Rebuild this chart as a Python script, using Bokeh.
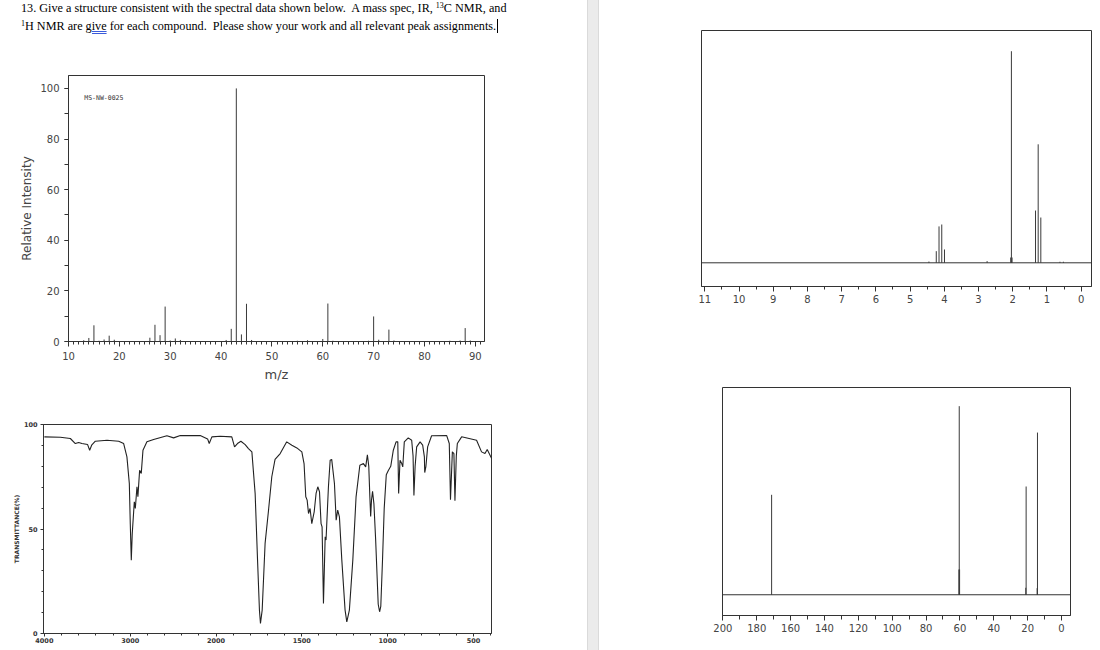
import numpy as np
from bokeh.plotting import figure
from bokeh.layouts import row, column
from bokeh.models import Div, Range1d, FixedTicker, Label, Span
from bokeh.embed import file_html
from bokeh.resources import INLINE

# ---------------- data ----------------
ms_mz = [13, 14, 15, 16, 17, 18, 19, 26, 27, 28, 29, 30, 31, 32, 41, 42, 43, 44, 45, 46,
         55, 57, 60, 61, 62, 69, 70, 71, 73, 74, 85, 87, 88, 89]
ms_int = [0.5, 1.4, 6.4, 0.3, 0.8, 2.3, 0.7, 1.5, 6.6, 2.5, 13.8, 0.4, 1.2, 0.6, 0.6, 5.0, 100.0, 2.8, 14.9, 0.6,
          0.3, 0.5, 1.0, 15.0, 0.3, 0.3, 9.9, 0.7, 4.7, 0.4, 0.3, 0.4, 5.3, 0.4]
ms_ticks = [10, 20, 30, 40, 50, 60, 70, 80, 90]
ms_yticks = [0, 20, 40, 60, 80, 100]

ir_wavenumber = [4000, 3814, 3697, 3639, 3600, 3562, 3496, 3472, 3449, 3406, 3270, 3134, 3076, 3038, 3010,
                 2999, 2987, 2976, 2952, 2940, 2921, 2910, 2890, 2871, 2851, 2805, 2727, 2572, 2494, 2416,
                 2184, 2098, 2079, 2048, 1976, 1908, 1892, 1875, 1855, 1830, 1811, 1791, 1772, 1758, 1747,
                 1741, 1731, 1714, 1694, 1675, 1656, 1626, 1588, 1558, 1529, 1500, 1487, 1477, 1469, 1461,
                 1452, 1442, 1428, 1417, 1407, 1397, 1388, 1382, 1374, 1364, 1359, 1345, 1335, 1326, 1310,
                 1300, 1291, 1281, 1267, 1248, 1238, 1223, 1203, 1184, 1162, 1141, 1128, 1118, 1110, 1104,
                 1099, 1094, 1088, 1080, 1070, 1055, 1047, 1040, 1030, 1020, 1008, 996, 982, 967, 951,
                 941, 936, 928, 918, 912, 903, 880, 860, 852, 847, 840, 831, 811, 796, 786, 784, 777,
                 767, 744, 656, 641, 634, 623, 614, 608, 600, 594, 569, 482, 453, 433, 420, 394]
ir_transmittance = [94.1, 93.9, 93.3, 90.9, 91.4, 90.9, 90.4, 87.7, 90.1, 92.0, 92.5, 92.0, 90.9, 84.5, 71.8,
                    52.6, 35.1, 47.8, 63.0, 59.8, 70.2, 65.4, 78.1, 76.6, 87.7, 91.7, 92.8, 94.6, 93.6, 94.7,
                    94.7, 93.1, 90.9, 94.1, 94.4, 94.1, 89.3, 90.9, 92.0, 90.4, 88.5, 86.9, 67.0, 35.1, 11.2,
                    4.8, 11.2, 43.1, 59.0, 75.0, 83.3, 86.1, 91.7, 90.1, 88.8, 86.9, 81.3, 65.4, 63.8, 57.4,
                    59.8, 52.6, 58.2, 67.0, 70.2, 67.8, 52.6, 51.0, 14.4, 46.3, 44.7, 70.2, 82.9, 83.3, 71.8,
                    54.2, 59.0, 55.8, 35.1, 11.2, 5.6, 11.2, 35.1, 65.4, 80.5, 81.3, 79.7, 85.5, 80.0, 66.0,
                    56.0, 64.0, 68.0, 62.0, 45.0, 14.0, 10.4, 13.0, 35.0, 60.0, 76.0, 78.0, 80.0, 87.7, 91.7,
                    91.7, 67.0, 82.9, 81.3, 79.7, 91.7, 93.6, 92.5, 85.0, 66.0, 80.0, 89.3, 91.7, 90.1, 84.5, 77.0, 80.0,
                    89.3, 94.6, 94.7, 90.9, 64.0, 86.9, 86.1, 63.5, 85.0, 90.9, 94.1, 92.5, 86.9, 86.1, 88.0, 83.7]
ir_labels = [4000, 3000, 2000, 1500, 1000, 500]

h1_ppm = [4.235, 4.155, 4.075, 3.995, 2.04, 2.06, 2.02, 1.335, 1.257, 1.18, 4.45, 2.75, 0.62, 0.52]
h1_int = [5.5, 17.2, 18.1, 6.3, 100.0, 2.5, 2.5, 24.7, 56.0, 21.4, 0.6, 0.8, 0.5, 0.5]
h1_ticks = list(range(0, 12))

c13_ppm = [171.2, 60.4, 60.6, 60.2, 20.9, 21.1, 14.2, 14.4]
c13_int = [53.0, 100.0, 13.4, 13.4, 57.4, 3.7, 86.0, 3.5]
c13_ticks = list(range(0, 201, 20))

AX = "#333333"
LBL = "#444444"
SANS = "DejaVu Sans"


def base_fig(w, h, xr, yr, bl, br, bt, bb):
    p = figure(width=w, height=h, x_range=xr, y_range=yr, output_backend="svg",
               toolbar_location=None, title=None,
               min_border_left=bl, min_border_right=br, min_border_top=bt, min_border_bottom=bb)
    p.xgrid.visible = False
    p.ygrid.visible = False
    p.outline_line_color = AX
    p.outline_line_width = 1
    p.background_fill_color = "white"
    p.border_fill_color = "white"
    for ax in p.axis:
        ax.axis_line_color = AX
        ax.major_tick_line_color = AX
        ax.minor_tick_line_color = AX
        ax.major_tick_in = 0
        ax.minor_tick_in = 0
        ax.major_label_text_color = LBL
        ax.major_label_text_font = SANS
        ax.axis_label_text_font = SANS
        ax.axis_label_text_font_style = "normal"
        ax.axis_label_text_color = LBL
    return p


# ---------------- header ----------------
header_html = (
    "<div style=\"position:relative; top:0px; left:21px; font-family:'Liberation Serif'; "
    "font-size:12.2px; line-height:17px; color:#000; white-space:nowrap;\">"
    "13. Give a structure consistent with the spectral data shown below.&nbsp; A mass spec, IR, "
    "<span style='font-size:8px; position:relative; top:-4px;'>13</span>C NMR, and<br>"
    "<span style='font-size:8px; position:relative; top:-4px;'>1</span>H NMR are "
    "<span style='text-decoration: underline double #3b5bdb;'>give</span> for each compound.&nbsp; "
    "Please show your work and all relevant peak assignments."
    "<span style='display:inline-block; width:0; height:14px; border-left:1px solid #000; "
    "vertical-align:-3px; margin-left:1px;'></span></div>"
)
header = Div(text=header_html, width=587, height=40, margin=0)

# ---------------- mass spectrum ----------------
ms = base_fig(587, 351, Range1d(10, 91.8), Range1d(0, 105.1), 68, 103, 35, 50)
ms.segment(x0=ms_mz, y0=0, x1=ms_mz, y1=ms_int, line_color="#3a3a3a", line_width=1)
ms.xaxis.ticker = FixedTicker(ticks=ms_ticks, minor_ticks=list(range(10, 92)))
ms.yaxis.ticker = FixedTicker(ticks=ms_yticks, minor_ticks=list(range(0, 101, 10)))
ms.xaxis.major_tick_out = 5
ms.xaxis.minor_tick_out = 3
ms.yaxis.major_tick_out = 4
ms.yaxis.minor_tick_out = 4
ms.xaxis.major_label_text_font_size = "10px"
ms.yaxis.major_label_text_font_size = "10px"
ms.xaxis.major_label_standoff = 5
ms.yaxis.major_label_standoff = 5
ms.xaxis.axis_label = "m/z"
ms.yaxis.axis_label = "Relative Intensity"
ms.xaxis.axis_label_text_font_size = "13px"
ms.yaxis.axis_label_text_font_size = "12px"
ms.xaxis.axis_label_standoff = 4
ms.yaxis.axis_label_standoff = 3
ms.add_layout(Label(x=13.1, y=96.2, text="MS-NW-0025", text_font="DejaVu Sans Mono",
                    text_font_size="6.5px", text_color="#333", text_baseline="middle"))

# ---------------- IR ----------------
w = np.array(ir_wavenumber, dtype=float)
t = np.where(w > 2000, 2000 + (w - 2000) / 2.0, w)  # two-segment IR abscissa
lab = np.array(ir_labels, dtype=float)
lab_t = np.where(lab > 2000, 2000 + (lab - 2000) / 2.0, lab)

ir = base_fig(587, 259, Range1d(3005, 395), Range1d(0, 100), 43, 96, 33, 17)
ir.line(t, ir_transmittance, line_color="#222222", line_width=1.1)
ir.xaxis.ticker = FixedTicker(ticks=list(lab_t), minor_ticks=list(range(400, 3001, 100)))
ir.xaxis.major_label_overrides = {float(tt): str(int(l)) for tt, l in zip(lab_t, lab)}
ir.yaxis.ticker = FixedTicker(ticks=[0, 50, 100], minor_ticks=list(range(0, 101, 10)))
for ax in ir.axis:
    ax.major_label_text_font_size = "6.5px"
    ax.major_label_text_font_style = "bold"
    ax.major_label_text_color = "#333"
    ax.major_tick_out = 3
    ax.minor_tick_out = 2
ir.xaxis.major_label_standoff = 1
ir.yaxis.major_label_standoff = 3
ir.yaxis.axis_label = "TRANSMITTANCE(%)"
ir.yaxis.axis_label_text_font_size = "6px"
ir.yaxis.axis_label_text_font_style = "bold"
ir.yaxis.axis_label_text_color = "#333"
ir.yaxis.axis_label_standoff = 1
ir.add_layout(Label(x=1754, y=-6.7, text="WAVENUMBER[-1]", text_font=SANS, text_font_size="5.5px",
                    text_font_style="bold", text_color="#333", text_align="center", text_baseline="middle"))

# ---------------- 1H NMR ----------------
h1 = base_fig(501, 335, Range1d(11.096, -0.301), Range1d(-11.2, 109.8), 102, 9, 30, 49)
h1.add_layout(Span(location=0, dimension="width", line_color="#333", line_width=1))
h1.segment(x0=h1_ppm, y0=0, x1=h1_ppm, y1=h1_int, line_color="#3a3a3a", line_width=1)
h1.yaxis.visible = False
h1.xaxis.ticker = FixedTicker(ticks=h1_ticks, minor_ticks=[i * 0.5 for i in range(0, 23)])
h1.xaxis.major_tick_out = 5
h1.xaxis.minor_tick_out = 3
h1.xaxis.major_label_text_font_size = "10px"
h1.xaxis.major_label_standoff = 3
h1.add_layout(Label(x=5.53, y=-26.3, text="ppm", text_font=SANS, text_font_size="12px",
                    text_color=LBL, text_align="center", text_baseline="middle"))
h1.add_layout(Label(x=11.076, y=-27.3, text="HSP-03-534", text_font="DejaVu Sans Mono",
                    text_font_size="6.5px", text_color="#333", text_baseline="middle"))

# ---------------- 13C NMR ----------------
c13 = base_fig(501, 315, Range1d(200.2, -5.3), Range1d(-11.0, 109.9), 123, 30, 52, 35)
c13.add_layout(Span(location=0, dimension="width", line_color="#333", line_width=1))
c13.segment(x0=c13_ppm, y0=0, x1=c13_ppm, y1=c13_int, line_color="#3a3a3a", line_width=1)
c13.yaxis.visible = False
c13.xaxis.ticker = FixedTicker(ticks=c13_ticks, minor_ticks=list(range(0, 201, 10)))
c13.xaxis.major_tick_out = 5
c13.xaxis.minor_tick_out = 4
c13.xaxis.major_label_text_font_size = "10px"
c13.xaxis.major_label_standoff = 3
c13.add_layout(Label(x=100, y=-25.8, text="ppm", text_font=SANS, text_font_size="12px",
                     text_color=LBL, text_align="center", text_baseline="middle"))
c13.add_layout(Label(x=200.2, y=-25.8, text="CDS-00-095", text_font="DejaVu Sans Mono",
                     text_font_size="6.5px", text_color="#333", text_baseline="middle"))

strip = Div(text="", width=12, height=650, margin=0,
            styles={"background-color": "#ebebeb", "box-shadow": "inset 1px 0 0 #dadada, inset -1px 0 0 #dadada"})

left = column(header, row(ms), row(ir), spacing=0)
right = column(row(h1), row(c13), spacing=0)
page = row(left, strip, right, spacing=0)

open("out.html", "w").write(file_html(page, INLINE))
